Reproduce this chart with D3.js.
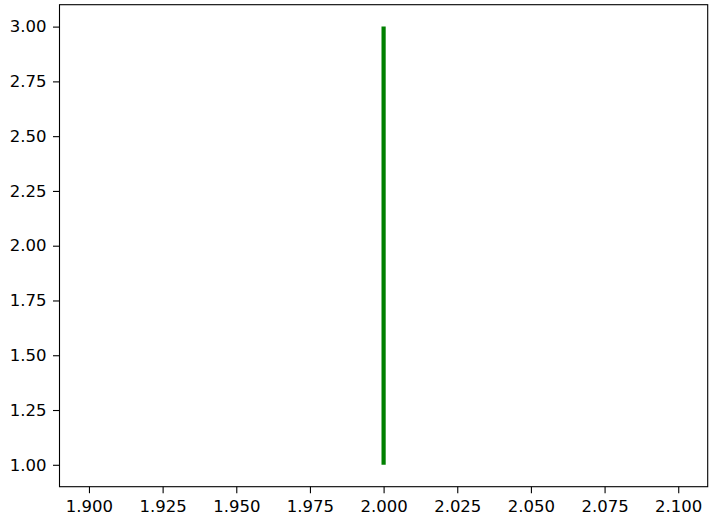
<!DOCTYPE html>
<html><head><meta charset="utf-8">
<script src="https://cdn.jsdelivr.net/npm/d3@7"></script>
<style>body{margin:0;background:#fff;} svg{display:block;}</style>
</head><body>
<svg id="c" width="715" height="520"></svg>
<script>
const xValues = [2, 2];
const yValues = [1, 3];
const xTicks = [1.900, 1.925, 1.950, 1.975, 2.000, 2.025, 2.050, 2.075, 2.100];
const yTicks = [1.00, 1.25, 1.50, 1.75, 2.00, 2.25, 2.50, 2.75, 3.00];
const xDomain = [1.89, 2.11];
const yDomain = [0.9, 3.1];

const svg = d3.select("#c");
const L = 59.5, R = 707.7, T = 4.7, B = 486.7;
const x = d3.scaleLinear().domain(xDomain).range([L, R]);
const y = d3.scaleLinear().domain(yDomain).range([B, T]);
const font = "DejaVu Sans";

const xAxis = d3.axisBottom(x).tickValues(xTicks).tickFormat(d3.format(".3f")).tickSize(6.5).tickPadding(7.5).tickSizeOuter(0);
const yAxis = d3.axisLeft(y).tickValues(yTicks).tickFormat(d3.format(".2f")).tickSize(6.5).tickPadding(6.5).tickSizeOuter(0);

const gx = svg.append("g").attr("transform", `translate(0,${B})`).call(xAxis);
const gy = svg.append("g").attr("transform", `translate(${L},0)`).call(yAxis);
[gx, gy].forEach(g => {
  g.select(".domain").remove();
  g.selectAll(".tick line").attr("stroke", "#000").attr("stroke-width", 1.1);
  g.selectAll(".tick text").attr("fill", "#000").style("font-family", font).style("font-size", "16.5px");
});

const line = d3.line().x(d => x(d[0])).y(d => y(d[1]));
svg.append("path")
  .datum(xValues.map((v, i) => [v, yValues[i]]))
  .attr("d", line)
  .attr("fill", "none")
  .attr("stroke", "#008000")
  .attr("stroke-width", 4.2);

svg.append("rect").attr("x", L).attr("y", T).attr("width", R - L).attr("height", B - T)
  .attr("fill", "none").attr("stroke", "#000").attr("stroke-width", 1.1);
</script>
</body></html>
